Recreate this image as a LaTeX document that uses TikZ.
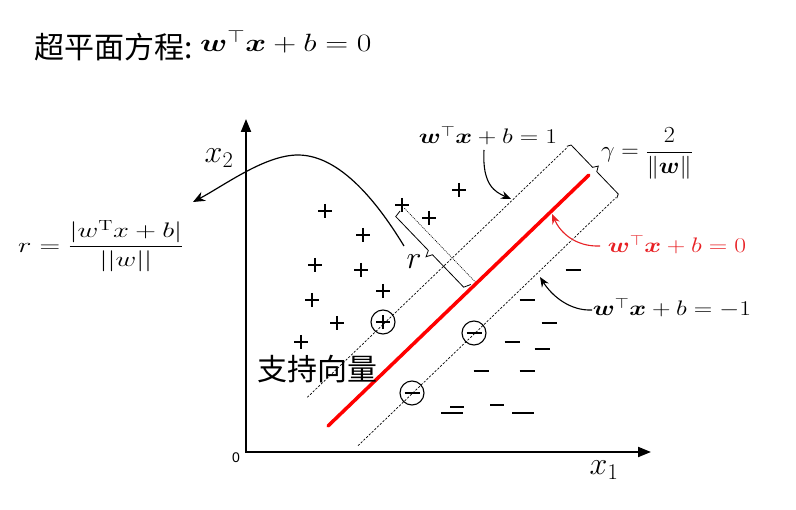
\RequirePackage{fix-cm}
\documentclass[tikz,border=0pt]{standalone}
\usepackage{fontspec}
\usepackage{amsmath}
\usepackage{bm}
\usepackage{graphicx}
\newfontfamily\cjkfont{Noto Sans CJK SC}
\newfontfamily\arialfont{Liberation Sans}
\usetikzlibrary{arrows.meta}
\newcommand{\hstretch}[2]{\scalebox{#1}[1]{#2}}
\definecolor{lblred}{RGB}{232,32,36}
\begin{document}
\begin{tikzpicture}[x=1pt,y=-1pt,
  axis/.style={line width=2pt,-{Triangle[length=13pt,width=10pt]}},
  margin/.style={line width=0.7pt,dash pattern=on 2.2pt off 1.6pt},
  hyper/.style={line width=3.5pt,red,line cap=round},
  bracket/.style={line width=0.8pt,line join=miter},
  dotline/.style={line width=0.6pt,dash pattern=on 1pt off 1pt},
  callout/.style={line width=1.1pt,-{Stealth[length=10pt,width=8pt]}},
  bigcallout/.style={line width=1.2pt,-{Stealth[length=12pt,width=10pt]}},
  ptmark/.style={line width=2pt},
  sv/.style={line width=1.1pt},
  mlabel/.style={inner sep=0pt,font=\fontsize{21}{25}\selectfont},
  axlabel/.style={inner sep=0pt,font=\fontsize{32}{36}\selectfont},
]
\fill[white] (0,0) rectangle (796,510);
\useasboundingbox (0,0) rectangle (796,510);

% title
\node[inner sep=0pt,anchor=base west,font=\cjkfont\fontsize{30}{34}\selectfont] (title) at (34,59) {超平面方程:};
\node[inner sep=0pt,anchor=base west,font=\fontsize{25}{30}\selectfont] (titlemath) at (200,52) {\hstretch{1.27}{$\bm{w}^{\top}\bm{x}+b=0$}};

% axes
\coordinate (O) at (246,452);
\coordinate (Ox) at (245,452);
\coordinate (Ytip) at (246,119);
\coordinate (Xtip) at (651,452);
\draw[axis] (O) -- (Ytip);
\draw[axis] (Ox) -- (Xtip);
\node[inner sep=0pt,font=\arialfont\fontsize{14}{16}\selectfont] (zero) at (236,458) {0};
\node[axlabel] (xone) at (604,470) {$x_1$};
\node[axlabel] (xtwo) at (219,158) {$x_2$};

% rotated frame: s along the hyperplane, t across it
\begin{scope}[shift={(328pt,-426pt)},x={(0.7208pt,0.6932pt)},y={(0.6932pt,-0.7208pt)}]
  \coordinate (R0) at (0,0);
  \coordinate (R1) at (362,0);
  \coordinate (U0) at (5,-35);
  \coordinate (U1) at (366,-35);
  \coordinate (L0) at (8,35);
  \coordinate (L1) at (366,35);
  \draw[margin] (U0) -- (U1);
  \draw[margin] (L0) -- (L1);
  % gamma bracket
  \coordinate (g0) at (366,-36);
  \coordinate (g1) at (370,-34);
  \coordinate (g2) at (370,-3);
  \coordinate (g3) at (375,0);
  \coordinate (g4) at (370,3);
  \coordinate (g5) at (370,34);
  \coordinate (g6) at (366,36);
  \draw[bracket] (g0) -- (g1) -- (g2) -- (g3) -- (g4) -- (g5) -- (g6);
  % r: perpendicular from a positive point to the hyperplane
  \coordinate (P) at (206,-104);
  \coordinate (F) at (206,0);
  \draw[dotline] (P) -- (F);
  \coordinate (r0) at (201,-105);
  \coordinate (r1) at (194,-104);
  \coordinate (r2) at (194,-57);
  \coordinate (r3) at (188,-54);
  \coordinate (r4) at (194,-51);
  \coordinate (r5) at (194,-6);
  \coordinate (r6) at (201,-3);
  \draw[bracket] (r0) -- (r1) -- (r2) -- (r3) -- (r4) -- (r5) -- (r6);
  \draw[hyper] (R0) -- (R1);
\end{scope}

\node[axlabel] (rlab) at (414,262) {$r$};

% positive points
\foreach \x/\y in {325/211,363/235,315/265,361/270,383/291,402/205,429/218,459/190,312/300,337/323,301/342,383/322}
  \draw[ptmark] (\x-7,\y) -- (\x+7,\y) (\x,\y-7) -- (\x,\y+7);
% negative points
\foreach \x/\y/\w in {573/270/15,527/300/15,549/323/15,512/342/15,542/349/15,481/371/15,527/371/15,457/407/14,452/413/22,497/405/14,523/413/22,474/333/15,412/393/15}
  \draw[ptmark] (\x-\w/2,\y) -- (\x+\w/2,\y);
% support vectors
\draw[sv] (383,322) circle[radius=12pt];
\draw[sv] (474,333) circle[radius=12pt];
\draw[sv] (412,393) circle[radius=12pt];

\node[inner sep=0pt,anchor=base west,font=\cjkfont\fontsize{30}{34}\selectfont] (svlab) at (257,381) {支持向量};

% labels
\node[mlabel,anchor=base] (lab1) at (488,144) {\hstretch{1.22}{$\bm{w}^{\top}\bm{x}+b=1$}};
\node[mlabel,anchor=base,text=lblred] (lab0) at (677,253) {\hstretch{1.22}{$\bm{w}^{\top}\bm{x}+b=0$}};
\node[mlabel,anchor=base] (labm1) at (672,316) {\hstretch{1.22}{$\bm{w}^{\top}\bm{x}+b=-1$}};
\node[mlabel,anchor=base west,font=\fontsize{23}{27}\selectfont] (gam) at (601,158) {\hstretch{1.05}{$\gamma=\dfrac{2}{\|\bm{w}\|}$}};
\node[mlabel,font=\fontsize{21}{25}\selectfont] (rform) at (101,246) {\hstretch{1.36}{$r=\dfrac{|w^{\mathrm{T}}x+b|}{||w||}$}};

% callouts
\coordinate (a1s) at (484,150);
\coordinate (a1e) at (511,199);
\draw[callout] (a1s) .. controls (482,185) and (495,192) .. (a1e);
\coordinate (a0s) at (600,246);
\coordinate (a0e) at (552,214);
\draw[callout,lblred] (a0s) .. controls (575,247) and (560,232) .. (a0e);
\coordinate (am1s) at (592,310);
\coordinate (am1e) at (540,277);
\draw[callout] (am1s) .. controls (570,311) and (552,296) .. (am1e);
\coordinate (cs) at (404,246);
\coordinate (cpk) at (298,155);
\coordinate (ce) at (193,202);
\draw[bigcallout] (cs) .. controls (385,215) and (345,155) .. (cpk) .. controls (265,155) and (225,185) .. (ce);
\end{tikzpicture}
\end{document}
